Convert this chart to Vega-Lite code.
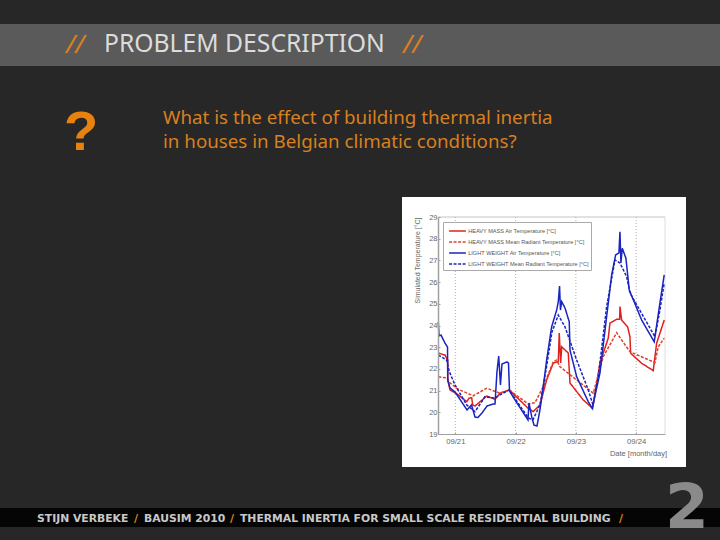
{
  "$schema": "https://vega.github.io/schema/vega-lite/v6.json",
  "width": 720,
  "height": 540,
  "padding": 0,
  "autosize": {"type": "none"},
  "background": "#272727",
  "config": {"view": {"stroke": null}, "text": {"baseline": "alphabetic"}},
  "datasets": {
    "temps": [
      {"series":"HEAVY MASS Air Temperature [°C]","day":20.713,"temp":22.73},
      {"series":"HEAVY MASS Air Temperature [°C]","day":20.829,"temp":22.64},
      {"series":"HEAVY MASS Air Temperature [°C]","day":20.874,"temp":22.41},
      {"series":"HEAVY MASS Air Temperature [°C]","day":20.876,"temp":21.49},
      {"series":"HEAVY MASS Air Temperature [°C]","day":20.912,"temp":21.03},
      {"series":"HEAVY MASS Air Temperature [°C]","day":21.05,"temp":20.80},
      {"series":"HEAVY MASS Air Temperature [°C]","day":21.189,"temp":20.49},
      {"series":"HEAVY MASS Air Temperature [°C]","day":21.227,"temp":20.65},
      {"series":"HEAVY MASS Air Temperature [°C]","day":21.272,"temp":20.67},
      {"series":"HEAVY MASS Air Temperature [°C]","day":21.288,"temp":20.34},
      {"series":"HEAVY MASS Air Temperature [°C]","day":21.327,"temp":20.29},
      {"series":"HEAVY MASS Air Temperature [°C]","day":21.521,"temp":20.75},
      {"series":"HEAVY MASS Air Temperature [°C]","day":21.658,"temp":20.60},
      {"series":"HEAVY MASS Air Temperature [°C]","day":21.741,"temp":20.88},
      {"series":"HEAVY MASS Air Temperature [°C]","day":21.895,"temp":21.03},
      {"series":"HEAVY MASS Air Temperature [°C]","day":22.21,"temp":20.18},
      {"series":"HEAVY MASS Air Temperature [°C]","day":22.293,"temp":20.03},
      {"series":"HEAVY MASS Air Temperature [°C]","day":22.404,"temp":20.34},
      {"series":"HEAVY MASS Air Temperature [°C]","day":22.515,"temp":21.49},
      {"series":"HEAVY MASS Air Temperature [°C]","day":22.625,"temp":22.27},
      {"series":"HEAVY MASS Air Temperature [°C]","day":22.708,"temp":22.33},
      {"series":"HEAVY MASS Air Temperature [°C]","day":22.724,"temp":23.65},
      {"series":"HEAVY MASS Air Temperature [°C]","day":22.748,"temp":22.27},
      {"series":"HEAVY MASS Air Temperature [°C]","day":22.764,"temp":23.02},
      {"series":"HEAVY MASS Air Temperature [°C]","day":22.874,"temp":22.73},
      {"series":"HEAVY MASS Air Temperature [°C]","day":22.902,"temp":21.35},
      {"series":"HEAVY MASS Air Temperature [°C]","day":23.122,"temp":20.57},
      {"series":"HEAVY MASS Air Temperature [°C]","day":23.278,"temp":20.18},
      {"series":"HEAVY MASS Air Temperature [°C]","day":23.399,"temp":22.27},
      {"series":"HEAVY MASS Air Temperature [°C]","day":23.537,"temp":23.42},
      {"series":"HEAVY MASS Air Temperature [°C]","day":23.565,"temp":24.11},
      {"series":"HEAVY MASS Air Temperature [°C]","day":23.676,"temp":24.29},
      {"series":"HEAVY MASS Air Temperature [°C]","day":23.726,"temp":24.29},
      {"series":"HEAVY MASS Air Temperature [°C]","day":23.731,"temp":24.87},
      {"series":"HEAVY MASS Air Temperature [°C]","day":23.759,"temp":24.25},
      {"series":"HEAVY MASS Air Temperature [°C]","day":23.858,"temp":23.94},
      {"series":"HEAVY MASS Air Temperature [°C]","day":23.897,"temp":23.48},
      {"series":"HEAVY MASS Air Temperature [°C]","day":23.908,"temp":22.72},
      {"series":"HEAVY MASS Air Temperature [°C]","day":24.091,"temp":22.26},
      {"series":"HEAVY MASS Air Temperature [°C]","day":24.283,"temp":21.92},
      {"series":"HEAVY MASS Air Temperature [°C]","day":24.339,"temp":23.18},
      {"series":"HEAVY MASS Air Temperature [°C]","day":24.465,"temp":24.25},

      {"series":"HEAVY MASS Mean Radiant Temperature [°C]","day":20.72,"temp":21.64},
      {"series":"HEAVY MASS Mean Radiant Temperature [°C]","day":20.862,"temp":21.58},
      {"series":"HEAVY MASS Mean Radiant Temperature [°C]","day":20.912,"temp":21.35},
      {"series":"HEAVY MASS Mean Radiant Temperature [°C]","day":21.05,"temp":21.06},
      {"series":"HEAVY MASS Mean Radiant Temperature [°C]","day":21.298,"temp":20.76},
      {"series":"HEAVY MASS Mean Radiant Temperature [°C]","day":21.521,"temp":21.11},
      {"series":"HEAVY MASS Mean Radiant Temperature [°C]","day":21.741,"temp":20.88},
      {"series":"HEAVY MASS Mean Radiant Temperature [°C]","day":21.895,"temp":21.03},
      {"series":"HEAVY MASS Mean Radiant Temperature [°C]","day":22.21,"temp":20.38},
      {"series":"HEAVY MASS Mean Radiant Temperature [°C]","day":22.321,"temp":20.44},
      {"series":"HEAVY MASS Mean Radiant Temperature [°C]","day":22.459,"temp":21.18},
      {"series":"HEAVY MASS Mean Radiant Temperature [°C]","day":22.625,"temp":22.33},
      {"series":"HEAVY MASS Mean Radiant Temperature [°C]","day":22.681,"temp":22.41},
      {"series":"HEAVY MASS Mean Radiant Temperature [°C]","day":22.736,"temp":22.10},
      {"series":"HEAVY MASS Mean Radiant Temperature [°C]","day":23.288,"temp":20.88},
      {"series":"HEAVY MASS Mean Radiant Temperature [°C]","day":23.454,"temp":22.56},
      {"series":"HEAVY MASS Mean Radiant Temperature [°C]","day":23.676,"temp":23.67},
      {"series":"HEAVY MASS Mean Radiant Temperature [°C]","day":23.759,"temp":23.33},
      {"series":"HEAVY MASS Mean Radiant Temperature [°C]","day":23.897,"temp":22.79},
      {"series":"HEAVY MASS Mean Radiant Temperature [°C]","day":24.311,"temp":22.29},
      {"series":"HEAVY MASS Mean Radiant Temperature [°C]","day":24.366,"temp":23.02},
      {"series":"HEAVY MASS Mean Radiant Temperature [°C]","day":24.465,"temp":23.42},

      {"series":"LIGHT WEIGHT Air Temperature [°C]","day":20.718,"temp":24.16},
      {"series":"LIGHT WEIGHT Air Temperature [°C]","day":20.73,"temp":23.52},
      {"series":"LIGHT WEIGHT Air Temperature [°C]","day":20.763,"temp":23.56},
      {"series":"LIGHT WEIGHT Air Temperature [°C]","day":20.829,"temp":23.19},
      {"series":"LIGHT WEIGHT Air Temperature [°C]","day":20.871,"temp":23.01},
      {"series":"LIGHT WEIGHT Air Temperature [°C]","day":20.874,"temp":21.49},
      {"series":"LIGHT WEIGHT Air Temperature [°C]","day":20.912,"temp":21.12},
      {"series":"LIGHT WEIGHT Air Temperature [°C]","day":20.995,"temp":20.94},
      {"series":"LIGHT WEIGHT Air Temperature [°C]","day":21.194,"temp":20.11},
      {"series":"LIGHT WEIGHT Air Temperature [°C]","day":21.269,"temp":20.34},
      {"series":"LIGHT WEIGHT Air Temperature [°C]","day":21.327,"temp":19.78},
      {"series":"LIGHT WEIGHT Air Temperature [°C]","day":21.376,"temp":19.76},
      {"series":"LIGHT WEIGHT Air Temperature [°C]","day":21.443,"temp":19.97},
      {"series":"LIGHT WEIGHT Air Temperature [°C]","day":21.526,"temp":20.29},
      {"series":"LIGHT WEIGHT Air Temperature [°C]","day":21.625,"temp":20.38},
      {"series":"LIGHT WEIGHT Air Temperature [°C]","day":21.658,"temp":20.38},
      {"series":"LIGHT WEIGHT Air Temperature [°C]","day":21.691,"temp":21.86},
      {"series":"LIGHT WEIGHT Air Temperature [°C]","day":21.72,"temp":22.59},
      {"series":"LIGHT WEIGHT Air Temperature [°C]","day":21.749,"temp":21.26},
      {"series":"LIGHT WEIGHT Air Temperature [°C]","day":21.774,"temp":22.23},
      {"series":"LIGHT WEIGHT Air Temperature [°C]","day":21.857,"temp":22.32},
      {"series":"LIGHT WEIGHT Air Temperature [°C]","day":21.882,"temp":22.27},
      {"series":"LIGHT WEIGHT Air Temperature [°C]","day":21.899,"temp":20.98},
      {"series":"LIGHT WEIGHT Air Temperature [°C]","day":21.99,"temp":20.57},
      {"series":"LIGHT WEIGHT Air Temperature [°C]","day":22.205,"temp":19.65},
      {"series":"LIGHT WEIGHT Air Temperature [°C]","day":22.222,"temp":20.43},
      {"series":"LIGHT WEIGHT Air Temperature [°C]","day":22.272,"temp":19.74},
      {"series":"LIGHT WEIGHT Air Temperature [°C]","day":22.305,"temp":19.41},
      {"series":"LIGHT WEIGHT Air Temperature [°C]","day":22.355,"temp":19.37},
      {"series":"LIGHT WEIGHT Air Temperature [°C]","day":22.404,"temp":20.11},
      {"series":"LIGHT WEIGHT Air Temperature [°C]","day":22.459,"temp":21.18},
      {"series":"LIGHT WEIGHT Air Temperature [°C]","day":22.515,"temp":22.41},
      {"series":"LIGHT WEIGHT Air Temperature [°C]","day":22.598,"temp":23.94},
      {"series":"LIGHT WEIGHT Air Temperature [°C]","day":22.681,"temp":24.71},
      {"series":"LIGHT WEIGHT Air Temperature [°C]","day":22.708,"temp":25.10},
      {"series":"LIGHT WEIGHT Air Temperature [°C]","day":22.729,"temp":25.82},
      {"series":"LIGHT WEIGHT Air Temperature [°C]","day":22.744,"temp":24.71},
      {"series":"LIGHT WEIGHT Air Temperature [°C]","day":22.764,"temp":25.10},
      {"series":"LIGHT WEIGHT Air Temperature [°C]","day":22.819,"temp":24.81},
      {"series":"LIGHT WEIGHT Air Temperature [°C]","day":22.89,"temp":24.17},
      {"series":"LIGHT WEIGHT Air Temperature [°C]","day":22.902,"temp":22.87},
      {"series":"LIGHT WEIGHT Air Temperature [°C]","day":23.013,"temp":21.64},
      {"series":"LIGHT WEIGHT Air Temperature [°C]","day":23.205,"temp":20.49},
      {"series":"LIGHT WEIGHT Air Temperature [°C]","day":23.271,"temp":20.18},
      {"series":"LIGHT WEIGHT Air Temperature [°C]","day":23.399,"temp":21.81},
      {"series":"LIGHT WEIGHT Air Temperature [°C]","day":23.51,"temp":24.41},
      {"series":"LIGHT WEIGHT Air Temperature [°C]","day":23.593,"temp":26.33},
      {"series":"LIGHT WEIGHT Air Temperature [°C]","day":23.659,"temp":27.25},
      {"series":"LIGHT WEIGHT Air Temperature [°C]","day":23.714,"temp":27.35},
      {"series":"LIGHT WEIGHT Air Temperature [°C]","day":23.731,"temp":28.32},
      {"series":"LIGHT WEIGHT Air Temperature [°C]","day":23.747,"temp":26.88},
      {"series":"LIGHT WEIGHT Air Temperature [°C]","day":23.769,"temp":27.56},
      {"series":"LIGHT WEIGHT Air Temperature [°C]","day":23.83,"temp":27.10},
      {"series":"LIGHT WEIGHT Air Temperature [°C]","day":23.885,"temp":25.64},
      {"series":"LIGHT WEIGHT Air Temperature [°C]","day":24.091,"temp":24.25},
      {"series":"LIGHT WEIGHT Air Temperature [°C]","day":24.299,"temp":23.25},
      {"series":"LIGHT WEIGHT Air Temperature [°C]","day":24.394,"temp":25.04},
      {"series":"LIGHT WEIGHT Air Temperature [°C]","day":24.465,"temp":26.33},

      {"series":"LIGHT WEIGHT Mean Radiant Temperature [°C]","day":20.718,"temp":22.64},
      {"series":"LIGHT WEIGHT Mean Radiant Temperature [°C]","day":20.857,"temp":22.41},
      {"series":"LIGHT WEIGHT Mean Radiant Temperature [°C]","day":20.901,"temp":21.87},
      {"series":"LIGHT WEIGHT Mean Radiant Temperature [°C]","day":20.995,"temp":21.26},
      {"series":"LIGHT WEIGHT Mean Radiant Temperature [°C]","day":21.189,"temp":20.34},
      {"series":"LIGHT WEIGHT Mean Radiant Temperature [°C]","day":21.327,"temp":20.03},
      {"series":"LIGHT WEIGHT Mean Radiant Temperature [°C]","day":21.492,"temp":20.72},
      {"series":"LIGHT WEIGHT Mean Radiant Temperature [°C]","day":21.658,"temp":20.65},
      {"series":"LIGHT WEIGHT Mean Radiant Temperature [°C]","day":21.741,"temp":20.80},
      {"series":"LIGHT WEIGHT Mean Radiant Temperature [°C]","day":21.895,"temp":21.03},
      {"series":"LIGHT WEIGHT Mean Radiant Temperature [°C]","day":22.21,"temp":19.74},
      {"series":"LIGHT WEIGHT Mean Radiant Temperature [°C]","day":22.288,"temp":19.65},
      {"series":"LIGHT WEIGHT Mean Radiant Temperature [°C]","day":22.404,"temp":20.34},
      {"series":"LIGHT WEIGHT Mean Radiant Temperature [°C]","day":22.515,"temp":22.13},
      {"series":"LIGHT WEIGHT Mean Radiant Temperature [°C]","day":22.603,"temp":23.70},
      {"series":"LIGHT WEIGHT Mean Radiant Temperature [°C]","day":22.708,"temp":24.48},
      {"series":"LIGHT WEIGHT Mean Radiant Temperature [°C]","day":22.819,"temp":23.94},
      {"series":"LIGHT WEIGHT Mean Radiant Temperature [°C]","day":23.013,"temp":22.41},
      {"series":"LIGHT WEIGHT Mean Radiant Temperature [°C]","day":23.205,"temp":21.03},
      {"series":"LIGHT WEIGHT Mean Radiant Temperature [°C]","day":23.283,"temp":20.34},
      {"series":"LIGHT WEIGHT Mean Radiant Temperature [°C]","day":23.371,"temp":21.64},
      {"series":"LIGHT WEIGHT Mean Radiant Temperature [°C]","day":23.51,"temp":24.87},
      {"series":"LIGHT WEIGHT Mean Radiant Temperature [°C]","day":23.648,"temp":27.02},
      {"series":"LIGHT WEIGHT Mean Radiant Temperature [°C]","day":23.731,"temp":26.88},
      {"series":"LIGHT WEIGHT Mean Radiant Temperature [°C]","day":23.842,"temp":26.25},
      {"series":"LIGHT WEIGHT Mean Radiant Temperature [°C]","day":23.897,"temp":25.50},
      {"series":"LIGHT WEIGHT Mean Radiant Temperature [°C]","day":24.311,"temp":23.48},
      {"series":"LIGHT WEIGHT Mean Radiant Temperature [°C]","day":24.394,"temp":24.71},
      {"series":"LIGHT WEIGHT Mean Radiant Temperature [°C]","day":24.465,"temp":25.96}
    ],
    "days": [{"day":21},{"day":22},{"day":23},{"day":24}]
  },
  "layer": [
    {"data":{"values":[{"panel":"header"}]},"mark":{"type":"rect","x":0,"x2":720,"y":24,"y2":66,"fill":"#5a5a5a"}},
    {"data":{"values":[{"panel":"footer"}]},"mark":{"type":"rect","x":0,"x2":720,"y":508,"y2":527,"fill":"#050505"}},
    {"data":{"values":[{"panel":"figure"}]},"mark":{"type":"rect","x":402,"x2":686,"y":197,"y2":467,"fill":"#ffffff"}},
    {"data":{"values":[{"label":"//"}]},"mark":{"type":"text","x":66,"y":53,"align":"left","font":"Noto Sans","fontSize":26,"fontStyle":"italic","color":"#d9801f"},"encoding":{"text":{"field":"label"}}},
    {"data":{"values":[{"label":"PROBLEM DESCRIPTION"}]},"mark":{"type":"text","x":104,"y":52,"align":"left","font":"Noto Sans","fontSize":24.7,"color":"#dcdcdc"},"encoding":{"text":{"field":"label"}}},
    {"data":{"values":[{"label":"//"}]},"mark":{"type":"text","x":403,"y":53,"align":"left","font":"Noto Sans","fontSize":26,"fontStyle":"italic","color":"#d9801f"},"encoding":{"text":{"field":"label"}}},
    {"data":{"values":[{"label":"?"}]},"mark":{"type":"text","x":81,"y":150,"align":"center","font":"Liberation Sans","fontWeight":"bold","fontSize":56,"color":"#e8820c"},"encoding":{"text":{"field":"label"}}},
    {"data":{"values":[{"label":"What is the effect of building thermal inertia"}]},"mark":{"type":"text","x":163,"y":124,"align":"left","font":"Noto Sans","fontSize":18.75,"color":"#d9801f"},"encoding":{"text":{"field":"label"}}},
    {"data":{"values":[{"label":"in houses in Belgian climatic conditions?"}]},"mark":{"type":"text","x":163,"y":148,"align":"left","font":"Noto Sans","fontSize":18.75,"color":"#d9801f"},"encoding":{"text":{"field":"label"}}},
    {"data":{"values":[{"label":"STIJN VERBEKE"}]},"mark":{"type":"text","x":37,"y":522,"align":"left","font":"DejaVu Sans","fontWeight":"bold","fontSize":10.8,"color":"#c8c8c8"},"encoding":{"text":{"field":"label"}}},
    {"data":{"values":[{"label":"/"}]},"mark":{"type":"text","x":134,"y":522,"align":"left","font":"DejaVu Sans","fontWeight":"bold","fontSize":11,"color":"#d9801f"},"encoding":{"text":{"field":"label"}}},
    {"data":{"values":[{"label":"BAUSIM 2010"}]},"mark":{"type":"text","x":144,"y":522,"align":"left","font":"DejaVu Sans","fontWeight":"bold","fontSize":10.8,"color":"#c8c8c8"},"encoding":{"text":{"field":"label"}}},
    {"data":{"values":[{"label":"/"}]},"mark":{"type":"text","x":230,"y":522,"align":"left","font":"DejaVu Sans","fontWeight":"bold","fontSize":11,"color":"#d9801f"},"encoding":{"text":{"field":"label"}}},
    {"data":{"values":[{"label":"THERMAL INERTIA FOR SMALL SCALE RESIDENTIAL BUILDING"}]},"mark":{"type":"text","x":240,"y":522,"align":"left","font":"DejaVu Sans","fontWeight":"bold","fontSize":10.8,"color":"#c8c8c8"},"encoding":{"text":{"field":"label"}}},
    {"data":{"values":[{"label":"/"}]},"mark":{"type":"text","x":619,"y":522,"align":"left","font":"DejaVu Sans","fontWeight":"bold","fontSize":11,"color":"#d9801f"},"encoding":{"text":{"field":"label"}}},
    {"data":{"values":[{"label":"2"}]},"mark":{"type":"text","x":687,"y":528,"align":"center","font":"DejaVu Sans","fontWeight":"bold","fontSize":63,"color":"#8a8a8a"},"encoding":{"text":{"field":"label"}}},
    {
      "data":{"name":"days"},
      "mark":{"type":"rule","stroke":"#9a9a9a","strokeWidth":0.8,"strokeDash":[1,2]},
      "encoding":{
        "x":{"field":"day","type":"quantitative","scale":{"domain":[20.713,24.478],"range":[438,665],"nice":false,"zero":false}},
        "y":{"datum":19,"type":"quantitative","scale":{"domain":[19,29],"range":[434,217],"nice":false,"zero":false}},
        "y2":{"datum":29}
      }
    },
    {
      "data":{"values":[{"frame":"top"}]},
      "mark":{"type":"rule","stroke":"#b5b5b5","strokeWidth":0.8},
      "encoding":{
        "x":{"datum":20.713,"type":"quantitative"},
        "x2":{"datum":24.478},
        "y":{"datum":29,"type":"quantitative"}
      }
    },
    {
      "data":{"values":[{"frame":"right"}]},
      "mark":{"type":"rule","stroke":"#d5d5d5","strokeWidth":0.8},
      "encoding":{
        "x":{"datum":24.478,"type":"quantitative"},
        "y":{"datum":19,"type":"quantitative"},
        "y2":{"datum":29}
      }
    },
    {
      "data":{"name":"temps"},
      "mark":{"type":"line","strokeWidth":1.5,"interpolate":"linear"},
      "encoding":{
        "x":{
          "field":"day","type":"quantitative",
          "axis":{
            "orient":"bottom","offset":-106,"zindex":1,"values":[21,22,23,24],"labelExpr":"'09/' + datum.value",
            "grid":false,"domainColor":"#a0a0a0","tickColor":"#a0a0a0","tickSize":-2,
            "labelFont":"Liberation Sans","labelFontSize":7.7,"labelColor":"#666666","labelPadding":5,
            "title":"Date  [month/day]","titleFont":"Liberation Sans","titleFontSize":7.5,"titleFontWeight":"normal","titleColor":"#666666",
            "titleX":638,"titleY":15,"titleAlign":"center"
          }
        },
        "y":{
          "field":"temp","type":"quantitative",
          "axis":{
            "orient":"left","offset":-438,"zindex":1,"values":[19,20,21,22,23,24,25,26,27,28,29],
            "grid":false,"domainColor":"#a0a0a0","domainWidth":1.5,"tickColor":"#a0a0a0","tickSize":-2,
            "labelFont":"Liberation Sans","labelFontSize":7.5,"labelColor":"#666666","labelPadding":3,
            "title":"Simulated Temperature  [°C]","titleFont":"Liberation Sans","titleFontSize":7,"titleFontWeight":"normal","titleColor":"#666666",
            "titleX":-18,"titleY":260,"titleAngle":-90,"titleAlign":"center"
          }
        },
        "color":{
          "field":"series","type":"nominal",
          "scale":{
            "domain":["HEAVY MASS Air Temperature [°C]","HEAVY MASS Mean Radiant Temperature [°C]","LIGHT WEIGHT Air Temperature [°C]","LIGHT WEIGHT Mean Radiant Temperature [°C]"],
            "range":["#e0201c","#e0402c","#1a24c0","#1a24c0"]
          },
          "legend":{
            "orient":"none","legendX":443,"legendY":222,"title":null,
            "fillColor":"#ffffff","strokeColor":"#aaaaaa","padding":2,
            "symbolType":"M-1.4,0H1.4","symbolSize":144,"symbolStrokeWidth":1.5,"symbolOffset":5.5,"labelOffset":3.7,
            "labelFont":"Liberation Sans","labelFontSize":5.6,"labelColor":"#555555","labelLimit":140,
            "rowPadding":0
          }
        },
        "strokeDash":{
          "field":"series","type":"nominal",
          "scale":{
            "domain":["HEAVY MASS Air Temperature [°C]","HEAVY MASS Mean Radiant Temperature [°C]","LIGHT WEIGHT Air Temperature [°C]","LIGHT WEIGHT Mean Radiant Temperature [°C]"],
            "range":[[1,0],[3,1.5],[1,0],[3,1.5]]
          }
        }
      }
    }
  ]
}
